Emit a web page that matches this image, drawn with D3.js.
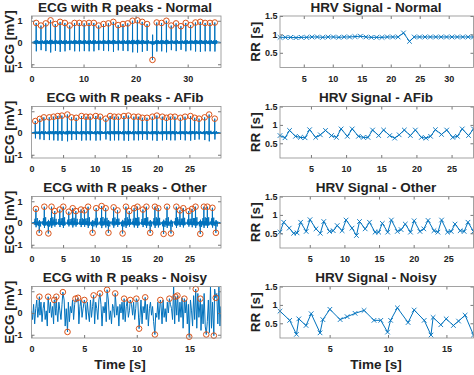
<!DOCTYPE html>
<html>
<head>
<meta charset="utf-8">
<script src="https://cdn.jsdelivr.net/npm/d3@7"></script>
<style>
  body { margin: 0; background: #fff; }
  text { font-family: "Liberation Sans", Arial, sans-serif; font-weight: bold; fill: #222; }
</style>
</head>
<body>
<script>
// klassen, van boven naar beneden
const classes = ['Normal', 'AFib', 'Other', 'Noisy']

// tijdstippen (s) en amplitudes (mV) van de gevonden R-pieken
const normalPeakTimes = [0.9, 1.82, 2.74, 3.66, 4.57, 5.49, 6.41, 7.34, 8.27, 9.19, 10.12, 11.05, 11.97, 12.9, 13.83, 14.77, 15.72, 16.65, 17.57, 18.49, 19.41, 20.34, 21.27, 22.2, 23.24, 24.05, 24.98, 25.91, 26.84, 27.77, 28.7, 29.63, 30.56, 31.49, 32.42, 33.35, 34.28, 35.21]
const normalPeakAmps = [0.9, 0.78, 0.88, 1.02, 0.85, 0.95, 0.9, 0.78, 0.9, 0.9, 0.88, 0.9, 0.9, 0.78, 0.85, 0.88, 0.95, 0.8, 0.85, 0.88, 1.0, 1.02, 0.95, 0.85, -0.8, 0.92, 0.9, 1.0, 0.78, 0.88, 0.75, 0.9, 0.8, 0.92, 0.95, 0.9, 0.9, 0.92]

const afibPeakTimes = [0.6, 1.31, 1.96, 2.81, 3.5, 4.16, 4.81, 5.68, 6.34, 7.07, 7.92, 8.63, 9.29, 10.18, 10.87, 11.76, 12.45, 13.11, 13.77, 14.63, 15.34, 16.2, 16.91, 17.55, 18.28, 19.14, 19.85, 20.71, 21.37, 22.01, 22.7, 23.57, 24.31, 25.17, 25.83, 26.52, 27.41, 28.12, 29.01]
const afibPeakAmps = [0.55, 0.65, 0.72, 0.72, 0.75, 0.78, 0.8, 0.85, 0.72, 0.7, 0.78, 0.75, 0.75, 0.78, 0.75, 0.66, 0.78, 0.75, 0.75, 0.78, 0.8, 0.75, 0.75, 0.7, 0.7, 0.75, 0.8, 0.75, 0.7, 0.75, 0.75, 0.7, 0.75, 0.78, 0.7, 0.66, 0.72, 0.85, 0.66]

const otherPeakTimes = [0.7, 1.23, 2.03, 2.67, 3.17, 3.68, 4.48, 5.03, 5.9, 6.52, 7.02, 7.84, 8.39, 8.96, 9.67, 10.24, 11.1, 11.74, 12.18, 13.0, 13.62, 14.42, 14.95, 15.48, 16.25, 16.78, 17.64, 18.19, 18.79, 19.54, 20.07, 20.91, 21.46, 22.08, 22.93, 23.5, 24.03, 24.89, 25.42, 25.97, 26.72, 27.29, 27.84, 28.64, 29.19]
const otherPeakAmps = [0.65, -0.45, 0.75, -0.48, 0.75, 0.55, 0.62, 0.75, 0.52, 0.68, 0.55, 0.62, 0.58, 0.75, -0.45, 0.68, 0.78, 0.68, -0.45, 0.72, 0.58, -0.48, 0.75, 0.55, 0.68, 0.75, 0.62, 0.75, -0.45, 0.75, 0.68, -0.5, 0.75, -0.48, 0.75, 0.58, 0.68, 0.55, 0.65, 0.75, -0.5, 0.75, 0.75, 0.7, -0.45]

const noisyPeakTimes = [0.75, 1.58, 2.16, 2.36, 2.98, 3.42, 4.18, 4.42, 5.02, 5.9, 6.5, 7.18, 7.95, 8.8, 9.38, 9.96, 10.22, 10.8, 11.72, 12.24, 13.1, 13.68, 13.86, 14.52, 14.98, 15.6, 16.04, 16.6, 17.32, 17.5]
const noisyPeakAmps = [0.75, 0.75, 0.6, 0.75, 0.96, -0.87, 0.66, 0.7, 0.6, 0.81, 0.9, 1.07, 0.9, 0.66, 0.6, 0.66, -0.72, 0.72, -0.99, 0.6, 0.66, 0.75, 0.8, 0.66, -1.09, 1.1, 0.66, -0.99, -1.04, 0.7]

// lengte van elk ECG-fragment (s)
const ecgLengths = [36.4, 30, 30, 18]

// vorm van één hartslag: [tijd t.o.v. R-piek (s), fractie van de piek]
const beatTemplate = [[-0.46, 0.03], [-0.42, -0.06], [-0.38, 0.06], [-0.34, -0.04], [-0.3, 0.05], [-0.26, -0.07], [-0.22, 0.09], [-0.18, 0.01], [-0.14, 0.1], [-0.1, -0.05], [-0.06, 0.04], [-0.03, -0.1], [0, 1], [0.025, -0.45], [0.05, 0.02], [0.08, -0.08], [0.12, 0.06], [0.16, -0.05], [0.2, 0.1], [0.24, 0.03], [0.28, 0.12], [0.32, -0.04], [0.36, 0.06], [0.4, -0.06], [0.44, 0.04]]
const otherTemplate = [[-0.3, 0.05], [-0.26, -0.1], [-0.22, 0.12], [-0.18, -0.05], [-0.14, 0.3], [-0.12, -0.15], [-0.08, 0.08], [-0.04, -0.12], [0, 1], [0.025, -0.3], [0.05, 0.06], [0.09, -0.15], [0.13, 0.1], [0.17, -0.08], [0.21, 0.35], [0.23, -0.15], [0.27, 0.08], [0.31, -0.1]]

// ruwe samples van het ruisige signaal, elke 0.1 s
const noisySamples = [
  0.1, -0.3, 0.4, -0.5, 0.2, 0.6, -0.2, 0.3, -0.1, 0.5,
  -0.4, 0.2, 0.5, -0.3, 0.1, -0.6, 0.4, 0.0, 0.5, -0.2,
  0.3, -0.5, 0.6, -0.1, 0.2, -0.4, 0.5, 0.1, -0.3, 0.4,
  -0.2, 0.6, -0.6, 0.2, -0.1, 0.5, -0.4, 0.3, 0.0, 0.6,
  -0.3, 0.4, -0.2, 0.5, 0.1, -0.5, 0.3, 0.6, -0.2, 0.2,
  -1.1, 0.4, -0.3, 0.5, 0.0, -0.4, 0.6, -0.2, 0.3, 0.1,
  -0.5, 0.5, 0.2, -0.3, 0.6, -0.1, 0.4, -0.6, 0.3, 0.0,
  0.5, -0.4, 0.2, 0.6, -0.3, 0.1, -0.5, 0.4, 0.2, -0.2,
  0.6, -0.1, 0.3, -0.6, 0.4, 0.0, 0.5, -0.3, 0.2, -0.4,
  0.3, 0.6, -0.2, 0.1, -0.5, 0.4, -0.1, 0.5, -0.3, 0.2,
  -0.4, 0.5, 0.1, -0.2, 0.6, -0.5, 0.3, 0.0, 1.2, -0.3,
  0.4, -0.6, 0.2, 0.5, -0.1, 0.3, -0.4, 0.6, 0.0, -0.2,
  0.5, -0.3, 0.1, 0.4, -0.5, 0.6, -0.2, 0.2, -0.4, 0.5,
  0.0, -0.6, 0.4, 0.2, -0.3, 1.2, -0.5, 0.3, -0.1, 0.6,
  -0.4, 0.5, -0.2, 0.7, -0.7, 0.3, 0.0, 0.6, -0.5, 0.4,
  -0.8, 0.6, 0.1, -0.6, 0.8, -0.3, 0.5, -0.7, 0.9, -0.2,
  0.7, -0.8, 0.4, -0.5, 0.9, -0.6, 1.0, -0.4, 0.6, -0.9,
  1.2, -0.7, 0.5, -1.0, 1.1, -0.8, 0.9, -0.5, 1.2, -0.6, 0.3
]

// tick labels
const ecgXTicks = [[0, 10, 20, 30], [0, 5, 10, 15, 20, 25], [0, 5, 10, 15, 20, 25], [0, 5, 10, 15]]
const hrvXTicks = [[5, 10, 15, 20, 25, 30], [5, 10, 15, 20, 25], [5, 10, 15, 20, 25], [5, 10, 15]]
const ecgYTicks = [-1, 0, 1]
const hrvYTicks = [0.5, 1, 1.5]

const peakTimes = [normalPeakTimes, afibPeakTimes, otherPeakTimes, noisyPeakTimes]
const peakAmps = [normalPeakAmps, afibPeakAmps, otherPeakAmps, noisyPeakAmps]

// layout
const width = 474
const height = 375
const rowTops = [16, 106.5, 196.5, 286.5]
const plotH = 51.5
const left = { x0: 31.5, x1: 221 }
const right = { x0: 280, x1: 473.5 }
const blue = '#0072BD'
const orange = '#D95319'

const svg = d3.select('body').append('svg').attr('width', width).attr('height', height)

// ECG trace opbouwen uit de pieken en het slagpatroon
function buildTrace(k) {
	const t = peakTimes[k]
	const a = peakAmps[k]
	const pts = [[0, 0]]
	if (k === 3) {
		noisySamples.forEach((v, i) => {
			const ts = i * 0.1
			if (!t.some(p => Math.abs(p - ts) < 0.04)) pts.push([ts, v])
		})
		t.forEach((p, i) => pts.push([p, a[i]]))
	} else {
		const tpl = k === 2 ? otherTemplate : beatTemplate
		t.forEach((p, i) => {
			const before = i > 0 ? (p - t[i - 1]) / 2 : 0.5
			const after = i < t.length - 1 ? (t[i + 1] - p) / 2 : 0.5
			tpl.forEach(([dt, f]) => {
				if (dt > -before && dt <= after) pts.push([p + dt, f * a[i]])
			})
		})
	}
	pts.push([ecgLengths[k], 0])
	return pts.sort((p, q) => p[0] - q[0])
}

function frame(g, x, y, xTicks, yTicks, yPad) {
	const [x0, x1] = x.range()
	const [y1, y0] = y.range()
	g.append('g')
		.attr('transform', `translate(0,${y1})`)
		.call(d3.axisBottom(x).tickValues(xTicks).tickSizeInner(-3).tickSizeOuter(0).tickPadding(8).tickFormat(d => String(d)))
	g.append('g')
		.attr('transform', `translate(0,${y0})`)
		.call(d3.axisTop(x).tickValues(xTicks).tickSizeInner(-3).tickSizeOuter(0).tickFormat(''))
	g.append('g')
		.attr('transform', `translate(${x0},0)`)
		.call(d3.axisLeft(y).tickValues(yTicks).tickSizeInner(-3).tickSizeOuter(0).tickPadding(yPad).tickFormat(d => String(d)))
	g.append('g')
		.attr('transform', `translate(${x1},0)`)
		.call(d3.axisRight(y).tickValues(yTicks).tickSizeInner(-3).tickSizeOuter(0).tickFormat(''))
	g.selectAll('.domain').remove()
	g.selectAll('.tick line').attr('stroke', '#777')
	g.selectAll('.tick text').style('font-size', '9px').attr('fill', '#222')
	g.append('rect')
		.attr('x', x0).attr('y', y0)
		.attr('width', x1 - x0).attr('height', y1 - y0)
		.attr('fill', 'none').attr('stroke', '#8c8c8c').attr('stroke-width', 0.8)
}

classes.forEach((name, k) => {
	const top = rowTops[k]
	const bottom = top + plotH

	// ECG links
	const gl = svg.append('g')
	const xl = d3.scaleLinear().domain([0, ecgLengths[k]]).range([left.x0, left.x1])
	const yl = d3.scaleLinear().domain([-1.15, 1.22]).range([bottom, top])
	const clipL = 'clipL' + k
	gl.append('clipPath').attr('id', clipL).append('rect')
		.attr('x', left.x0).attr('y', top).attr('width', left.x1 - left.x0).attr('height', plotH)

	const trace = buildTrace(k)
	gl.append('path')
		.datum(trace)
		.attr('clip-path', `url(#${clipL})`)
		.attr('fill', 'none').attr('stroke', blue).attr('stroke-width', 1)
		.attr('d', d3.line().x(d => xl(d[0])).y(d => yl(d[1])))

	gl.selectAll('circle.peak')
		.data(peakTimes[k].map((t, i) => [t, peakAmps[k][i]]))
		.join('circle')
		.attr('class', 'peak')
		.attr('cx', d => xl(d[0])).attr('cy', d => yl(d[1]))
		.attr('r', 2.8)
		.attr('fill', 'none').attr('stroke', orange).attr('stroke-width', 1)

	frame(gl, xl, yl, ecgXTicks[k], ecgYTicks, 9)

	gl.append('text')
		.attr('x', 125).attr('y', top - 4.5)
		.attr('text-anchor', 'middle').style('font-size', '13.5px')
		.text(`ECG with R peaks - ${name}`)
	gl.append('text')
		.attr('transform', `translate(14,${top + plotH / 2}) rotate(-90)`)
		.attr('text-anchor', 'middle').style('font-size', '13.5px')
		.text('ECG [mV]')

	// HRV rechts: RR-interval op het tijdstip van de piek
	const t = peakTimes[k]
	const rr = t.slice(0, -1).map((v, i) => [v, t[i + 1] - v])
	const gr = svg.append('g')
	const xr = d3.scaleLinear().domain(d3.extent(rr, d => d[0])).range([right.x0, right.x1])
	const yr = d3.scaleLinear().domain([0.1, 1.5]).range([bottom, top])
	const clipR = 'clipR' + k
	gr.append('clipPath').attr('id', clipR).append('rect')
		.attr('x', right.x0 - 3).attr('y', top).attr('width', right.x1 - right.x0 + 6).attr('height', plotH)

	gr.append('path')
		.datum(rr)
		.attr('clip-path', `url(#${clipR})`)
		.attr('fill', 'none').attr('stroke', blue).attr('stroke-width', 1)
		.attr('d', d3.line().x(d => xr(d[0])).y(d => yr(d[1])))

	const s = 2.3
	gr.selectAll('path.mark')
		.data(rr)
		.join('path')
		.attr('class', 'mark')
		.attr('clip-path', `url(#${clipR})`)
		.attr('d', d => {
			const cx = xr(d[0]), cy = yr(d[1])
			return `M${cx - s},${cy - s}L${cx + s},${cy + s}M${cx - s},${cy + s}L${cx + s},${cy - s}`
		})
		.attr('stroke', blue).attr('stroke-width', 0.9)

	frame(gr, xr, yr, hrvXTicks[k], hrvYTicks, 2.5)

	gr.append('text')
		.attr('x', 376).attr('y', top - 4.5)
		.attr('text-anchor', 'middle').style('font-size', '13.5px')
		.text(`HRV Signal - ${name}`)
	gr.append('text')
		.attr('transform', `translate(260,${top + plotH / 2}) rotate(-90)`)
		.attr('text-anchor', 'middle').style('font-size', '13.5px')
		.text('RR [s]')

	if (k === classes.length - 1) {
		gl.append('text').attr('x', 120).attr('y', 369)
			.attr('text-anchor', 'middle').style('font-size', '13.5px').text('Time [s]')
		gr.append('text').attr('x', 376).attr('y', 369)
			.attr('text-anchor', 'middle').style('font-size', '13.5px').text('Time [s]')
	}
})
</script>
</body>
</html>
